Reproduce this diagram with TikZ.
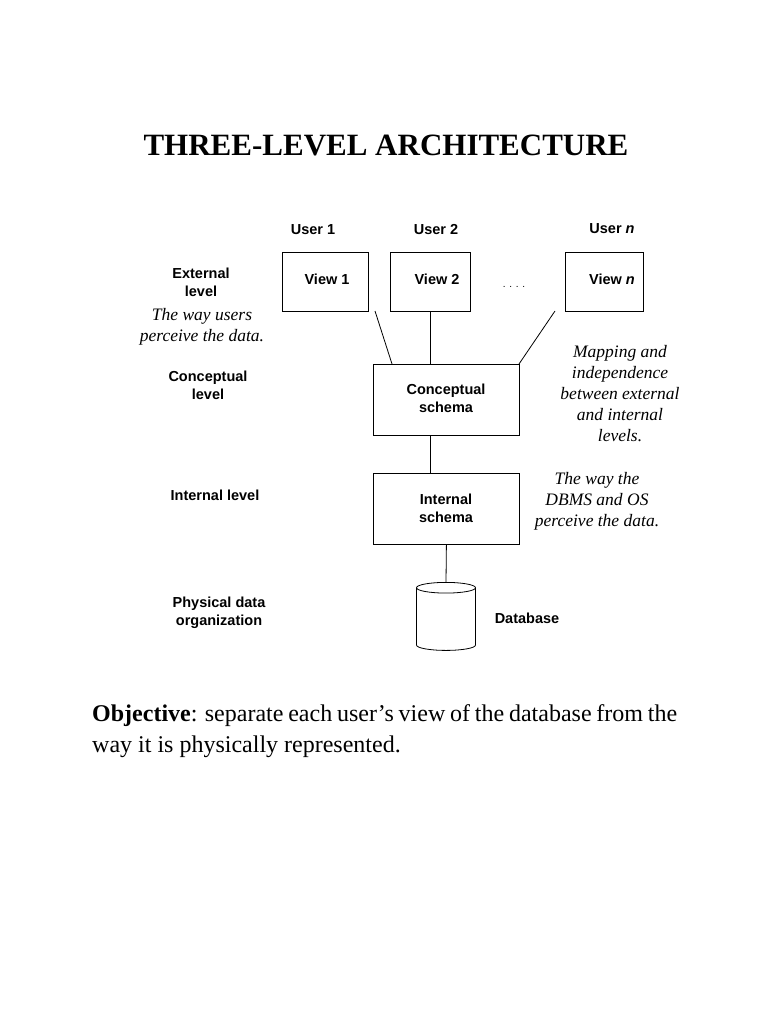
\documentclass[tikz,border=0pt]{standalone}
\usepackage{fontspec}
\setmainfont{Liberation Serif}
\setsansfont{Liberation Sans}
\usetikzlibrary{shapes.geometric}
\begin{document}
\begin{tikzpicture}[x=1pt,y=-1pt,
  lbl/.style={font=\sffamily\bfseries\fontsize{14.5}{18}\selectfont,align=center},
  itl/.style={font=\itshape\fontsize{17.5}{21}\selectfont,align=center},
  bx/.style={draw,line width=0.8pt,minimum width=86pt,minimum height=59pt,anchor=north west},
  cbox/.style={draw,line width=0.8pt,minimum width=146pt,minimum height=71pt,anchor=north west},
  ln/.style={line width=0.8pt}]
\useasboundingbox[fill=white] (0,0) rectangle (768,1024);
\node[font=\bfseries\fontsize{31}{36}\selectfont] (title) at (386,145) {THREE-LEVEL ARCHITECTURE};
\node[lbl] (u1) at (313,230) {User 1};
\node[lbl] (u2) at (436,230) {User 2};
\node[lbl] (un) at (612,229) {User \textit{n}};
\node[bx] (v1) at (282,252) {};
\node[bx,minimum width=80pt] (v2) at (390,252) {};
\node[bx,minimum width=78pt] (vn) at (565,252) {};
\node[lbl] at (327,279) {View 1};
\node[lbl] at (437,279) {View 2};
\node[lbl] at (612,279) {View \textit{n}};
\node[font=\sffamily\fontsize{10}{10}\selectfont] (dots) at (514,287) {. . . .};
\node[cbox] (cs) at (373,364) {};
\node[lbl] at (446,398) {Conceptual\\schema};
\node[cbox] (is) at (373,473) {};
\node[lbl] at (446,508) {Internal\\schema};
\node[cylinder,shape border rotate=90,draw,line width=0.8pt,minimum width=59pt,minimum height=68pt,aspect=1.6,anchor=north] (db) at (446,582) {};
\draw[ln] (375,311) coordinate (a1) -- (392,364) coordinate (b1);
\draw[ln] (v2.south) -- (v2.south |- cs.north);
\draw[ln] (555,311) coordinate (a3) -- (519,364) coordinate (b3);
\draw[ln] (430,435) coordinate (c1) -- (430,473) coordinate (c2);
\draw[ln] (is.south) -- (db.north);
\node[lbl] (dbl) at (527,618) {Database};
\node[lbl] (el) at (201,282) {External\\level};
\node[itl] (ew) at (202,327) {The way users\\perceive the data.};
\node[lbl] (cl) at (208,385) {Conceptual\\level};
\node[lbl] (il) at (215,495) {Internal level};
\node[lbl] (pl) at (219,613) {Physical data\\organization};
\node[itl] (mp) at (620,394) {Mapping and\\independence\\between external\\and internal\\levels.};
\node[itl] (dw) at (597,501) {The way the\\DBMS and OS\\perceive the data.};
\node[anchor=north west,text width=585pt,align=justify,inner sep=0pt,font=\fontsize{24}{31}\selectfont] (obj) at (92,704) {\textbf{Objective}: separate each user's view of the database from the way it is physically represented.};
\end{tikzpicture}
\end{document}
